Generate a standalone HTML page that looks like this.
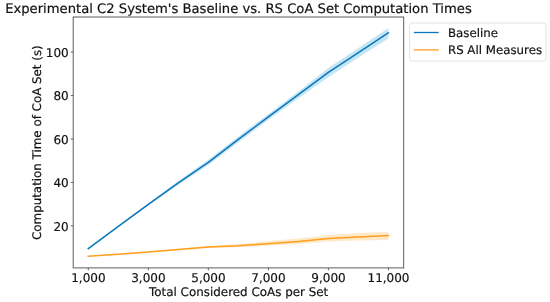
<!DOCTYPE html>
<html><head><meta charset="utf-8"><title>Experimental C2 System's Baseline vs. RS CoA Set Computation Times</title>
<style>
html,body{margin:0;padding:0;background:#fff;width:550px;height:302px;overflow:hidden}
svg{display:block;text-rendering:geometricPrecision;filter:blur(0.3px)}
.t{font-family:"DejaVu Sans","Liberation Sans",sans-serif;font-size:12px;fill:#111;stroke:#111;stroke-width:0.18px}
.title{font-family:"DejaVu Sans","Liberation Sans",sans-serif;font-size:13.17px;fill:#111;stroke:#111;stroke-width:0.18px}
</style></head><body>
<svg xmlns="http://www.w3.org/2000/svg" width="550" height="302" viewBox="0 0 550 302">
<rect width="550" height="302" fill="#fff"/>
<polygon points="88.30,248.40 118.31,225.90 148.32,203.40 178.33,181.10 208.34,159.80 238.35,136.60 268.36,114.10 298.37,91.40 328.38,67.90 358.39,48.00 388.40,27.90 388.40,38.60 358.39,57.50 328.38,77.20 298.37,98.30 268.36,119.70 238.35,142.20 208.34,165.00 178.33,184.70 148.32,205.40 118.31,226.90 88.30,248.80" fill="rgba(60,170,215,0.3)"/>
<polygon points="88.30,256.00 118.31,253.80 148.32,251.40 178.33,248.70 208.34,245.90 238.35,244.30 268.36,240.90 298.37,238.40 328.38,234.90 358.39,233.10 388.40,232.00 388.40,240.00 358.39,240.40 328.38,241.50 298.37,244.20 268.36,245.60 238.35,247.30 208.34,247.90 178.33,250.30 148.32,252.60 118.31,254.60 88.30,256.40" fill="rgba(255,168,45,0.25)"/>
<polyline points="88.30,248.60 118.31,226.40 148.32,204.40 178.33,182.90 208.34,162.40 238.35,139.40 268.36,116.90 298.37,94.70 328.38,72.40 358.39,52.70 388.40,32.70" fill="none" stroke="#0a77bd" stroke-width="1.5" stroke-linejoin="round" stroke-linecap="square"/>
<polyline points="88.30,256.20 118.31,254.20 148.32,252.00 178.33,249.50 208.34,246.90 238.35,245.80 268.36,243.80 298.37,241.60 328.38,238.50 358.39,237.10 388.40,235.50" fill="none" stroke="#ff9f1c" stroke-width="1.5" stroke-linejoin="round" stroke-linecap="square"/>
<rect x="73.2" y="17" width="330.5" height="250.89999999999998" fill="none" stroke="#555" stroke-width="0.95"/>
<line x1="88.3" y1="267.9" x2="88.3" y2="270.29999999999995" stroke="#555" stroke-width="0.95"/>
<text x="88.40" y="282.2" text-anchor="middle" class="t">1,000</text>
<line x1="148.32" y1="267.9" x2="148.32" y2="270.29999999999995" stroke="#555" stroke-width="0.95"/>
<text x="148.42" y="282.2" text-anchor="middle" class="t">3,000</text>
<line x1="208.34" y1="267.9" x2="208.34" y2="270.29999999999995" stroke="#555" stroke-width="0.95"/>
<text x="208.44" y="282.2" text-anchor="middle" class="t">5,000</text>
<line x1="268.36" y1="267.9" x2="268.36" y2="270.29999999999995" stroke="#555" stroke-width="0.95"/>
<text x="268.46" y="282.2" text-anchor="middle" class="t">7,000</text>
<line x1="328.38" y1="267.9" x2="328.38" y2="270.29999999999995" stroke="#555" stroke-width="0.95"/>
<text x="328.48" y="282.2" text-anchor="middle" class="t">9,000</text>
<line x1="388.40000000000003" y1="267.9" x2="388.40000000000003" y2="270.29999999999995" stroke="#555" stroke-width="0.95"/>
<text x="388.50" y="282.2" text-anchor="middle" class="t">11,000</text>
<line x1="73.2" y1="225.90" x2="70.8" y2="225.90" stroke="#555" stroke-width="0.95"/>
<text x="68.7" y="230.50" text-anchor="end" class="t">20</text>
<line x1="73.2" y1="182.45" x2="70.8" y2="182.45" stroke="#555" stroke-width="0.95"/>
<text x="68.7" y="187.05" text-anchor="end" class="t">40</text>
<line x1="73.2" y1="139.00" x2="70.8" y2="139.00" stroke="#555" stroke-width="0.95"/>
<text x="68.7" y="143.60" text-anchor="end" class="t">60</text>
<line x1="73.2" y1="95.55" x2="70.8" y2="95.55" stroke="#555" stroke-width="0.95"/>
<text x="68.7" y="100.15" text-anchor="end" class="t">80</text>
<line x1="73.2" y1="52.10" x2="70.8" y2="52.10" stroke="#555" stroke-width="0.95"/>
<text x="68.7" y="56.70" text-anchor="end" class="t">100</text>
<text x="238.45" y="12.5" text-anchor="middle" class="title">Experimental C2 System's Baseline vs. RS CoA Set Computation Times</text>
<text x="238.65" y="295.7" text-anchor="middle" class="t" style="font-size:11.92px">Total Considered CoAs per Set</text>
<text transform="translate(40.7,142.6) rotate(-90)" x="0" y="0" text-anchor="middle" class="t" style="font-size:11.87px">Computation Time of CoA Set (s)</text>
<rect x="409.5" y="23" width="136.5" height="38" rx="2.8" ry="2.8" fill="#fff" stroke="#e4e4e4" stroke-width="1"/>
<line x1="414.5" y1="32.5" x2="438.1" y2="32.5" stroke="#0a77bd" stroke-width="1.3" stroke-linecap="square"/>
<line x1="414.5" y1="49.9" x2="438.1" y2="49.9" stroke="#ff9f1c" stroke-width="1.3" stroke-linecap="square"/>
<text x="447.95" y="36.9" class="t" style="font-size:11.8px">Baseline</text>
<text x="447.95" y="53.6" class="t" style="font-size:11.8px">RS All Measures</text>
</svg>
</body></html>
